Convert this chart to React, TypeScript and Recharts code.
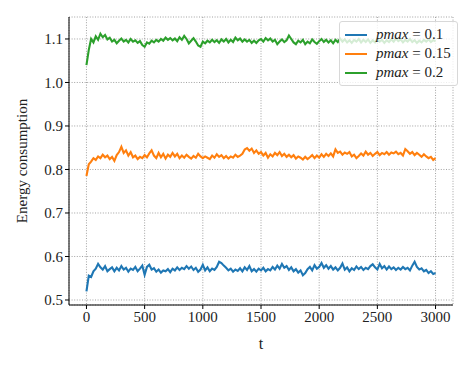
import React from 'react';
import {
  LineChart,
  Line,
  XAxis,
  YAxis,
  CartesianGrid,
} from 'recharts';

// sampled every 20 steps, t = 0 .. 3000
const STEP = 20;

const pmax01 = [
  0.520, 0.556, 0.553, 0.566, 0.572, 0.583, 0.575, 0.570, 0.578, 0.566,
  0.571, 0.575, 0.566, 0.574, 0.568, 0.578, 0.570, 0.574, 0.565, 0.572,
  0.569, 0.576, 0.566, 0.572, 0.579, 0.558, 0.576, 0.581, 0.570, 0.573,
  0.565, 0.570, 0.563, 0.568, 0.566, 0.571, 0.564, 0.572, 0.568, 0.575,
  0.569, 0.574, 0.571, 0.578, 0.572, 0.577, 0.569, 0.574, 0.565, 0.570,
  0.581, 0.568, 0.575, 0.566, 0.572, 0.569, 0.576, 0.588, 0.585, 0.579,
  0.574, 0.568, 0.572, 0.565, 0.570, 0.567, 0.573, 0.566, 0.575, 0.569,
  0.578, 0.566, 0.571, 0.565, 0.572, 0.568, 0.574, 0.566, 0.571, 0.568,
  0.576, 0.570, 0.579, 0.572, 0.583, 0.574, 0.578, 0.569, 0.575, 0.566,
  0.571, 0.563, 0.568, 0.557, 0.562, 0.571, 0.576, 0.568, 0.580, 0.572,
  0.576, 0.585, 0.574, 0.580, 0.572, 0.578, 0.570, 0.575, 0.568, 0.574,
  0.584, 0.570, 0.575, 0.566, 0.573, 0.569, 0.577, 0.571, 0.576, 0.569,
  0.574, 0.571, 0.578, 0.582, 0.575, 0.570, 0.583, 0.573, 0.578, 0.570,
  0.577, 0.571, 0.575, 0.569, 0.574, 0.570, 0.576, 0.571, 0.574, 0.568,
  0.579, 0.588, 0.576, 0.570, 0.573, 0.566, 0.569, 0.562, 0.566, 0.560,
  0.562,
];

const pmax015 = [
  0.785, 0.812, 0.818, 0.826, 0.822, 0.830, 0.826, 0.834, 0.828, 0.832,
  0.824, 0.829, 0.820, 0.833, 0.840, 0.852, 0.838, 0.844, 0.832, 0.840,
  0.828, 0.832, 0.824, 0.829, 0.826, 0.833, 0.828, 0.837, 0.844, 0.832,
  0.826, 0.838, 0.828, 0.836, 0.825, 0.834, 0.829, 0.838, 0.830, 0.836,
  0.826, 0.832, 0.827, 0.834, 0.829, 0.825, 0.831, 0.827, 0.836, 0.830,
  0.826, 0.830, 0.827, 0.824, 0.832, 0.827, 0.835, 0.829, 0.833, 0.826,
  0.831, 0.825, 0.830, 0.827, 0.834, 0.829, 0.832, 0.836, 0.846, 0.849,
  0.843, 0.848, 0.838, 0.844, 0.836, 0.840, 0.832, 0.838, 0.827, 0.835,
  0.830, 0.838, 0.833, 0.840, 0.831, 0.836, 0.829, 0.834, 0.828, 0.833,
  0.825, 0.830, 0.827, 0.823, 0.829, 0.824, 0.828, 0.833, 0.826, 0.832,
  0.827, 0.835, 0.829, 0.836, 0.831, 0.837, 0.830, 0.846, 0.838, 0.841,
  0.834, 0.839, 0.836, 0.840, 0.830, 0.834, 0.826, 0.831, 0.837, 0.832,
  0.841, 0.834, 0.838, 0.831, 0.836, 0.840, 0.833, 0.838, 0.835, 0.840,
  0.834, 0.839, 0.837, 0.841, 0.835, 0.838, 0.832, 0.847, 0.842, 0.836,
  0.840, 0.833, 0.838, 0.834, 0.829, 0.835, 0.830, 0.826, 0.829, 0.822,
  0.826,
];

const pmax02 = [
  1.040, 1.075, 1.100, 1.092, 1.106, 1.098, 1.112, 1.104, 1.109, 1.099,
  1.103, 1.094, 1.098, 1.090, 1.096, 1.101, 1.094, 1.098, 1.092, 1.100,
  1.094, 1.097, 1.091, 1.095, 1.086, 1.082, 1.092, 1.089, 1.096, 1.092,
  1.098, 1.094, 1.100, 1.096, 1.103, 1.098, 1.102, 1.097, 1.101, 1.095,
  1.104, 1.098, 1.107, 1.100, 1.090, 1.096, 1.102, 1.094, 1.085, 1.082,
  1.094, 1.090, 1.096, 1.092, 1.098, 1.093, 1.097, 1.091, 1.099, 1.094,
  1.100, 1.092, 1.098, 1.093, 1.103, 1.097, 1.101, 1.094, 1.099, 1.094,
  1.098, 1.091, 1.096, 1.091, 1.097, 1.100, 1.094, 1.102, 1.097, 1.101,
  1.094, 1.098, 1.088, 1.094, 1.099, 1.093, 1.097, 1.108, 1.100, 1.092,
  1.088, 1.096, 1.092, 1.098, 1.088, 1.094, 1.090, 1.099, 1.093, 1.089,
  1.095, 1.100, 1.093, 1.098, 1.092, 1.097, 1.090, 1.098, 1.093, 1.101,
  1.094, 1.099, 1.092, 1.097, 1.091, 1.098, 1.094, 1.100, 1.092, 1.098,
  1.093, 1.099, 1.091, 1.097, 1.092, 1.100, 1.094, 1.098, 1.091, 1.097,
  1.093, 1.099, 1.094, 1.101, 1.095, 1.099, 1.092, 1.098, 1.094, 1.100,
  1.093, 1.097, 1.091, 1.096, 1.092, 1.098, 1.094, 1.099, 1.093, 1.097,
  1.095,
];

const xTicks = [0, 500, 1000, 1500, 2000, 2500, 3000];
const yTicks = [0.5, 0.6, 0.7, 0.8, 0.9, 1.0, 1.1];

const seriesNames = ['0.1', '0.15', '0.2'];
const colors = ['#1f77b4', '#ff7f0e', '#2ca02c'];

const data = pmax01.map((v, i) => ({
  t: i * STEP,
  a: v,
  b: pmax015[i],
  c: pmax02[i],
}));

const FONT = '"Liberation Serif", "DejaVu Serif", serif';
const X_DOMAIN = [-150, 3150];
const Y_DOMAIN = [0.4885, 1.1505];

function LegendBox() {
  return (
    <div
      style={{
        position: 'absolute',
        left: 339,
        top: 21,
        background: 'rgba(255,255,255,0.8)',
        border: '1px solid #d8d8d8',
        borderRadius: 3,
        padding: '3px 6px 3px 5px',
        fontFamily: FONT,
        fontSize: 15,
        color: '#222',
      }}
    >
      {seriesNames.map((n, i) => (
        <div key={n} style={{ display: 'flex', alignItems: 'center', height: 19 }}>
          <span
            style={{
              display: 'inline-block',
              width: 22,
              height: 0,
              borderTop: `2px solid ${colors[i]}`,
              marginRight: 9,
            }}
          />
          <span>
            <i>pmax</i> = {n}
          </span>
        </div>
      ))}
    </div>
  );
}

const yLabel = () => (
  <text
    x={22}
    y={161}
    transform="rotate(-90 22 161)"
    textAnchor="middle"
    dominantBaseline="central"
    fontFamily={FONT}
    fontSize={15}
    fill="#222"
  >
    Energy consumption
  </text>
);

export default function App() {
  return (
    <div style={{ position: 'fixed', left: 0, top: 0, width: 474, height: 367, background: '#fff', fontFamily: FONT }}>
      <style>{`.recharts-cartesian-axis-tick-value, .recharts-label { font-family: ${FONT}; }`}</style>
      <LineChart
        width={474}
        height={367}
        data={data}
        margin={{ top: 17, right: 21, bottom: 22, left: 19 }}
        style={{ fontFamily: FONT }}
      >
        <CartesianGrid stroke="#8a8a8a" strokeDasharray="1 1.6" strokeWidth={0.8} />
        <XAxis
          dataKey="t"
          type="number"
          domain={X_DOMAIN}
          ticks={xTicks}
          height={40}
          stroke="#000"
          tickSize={4}
          tick={{ fontFamily: FONT, fontSize: 15, fill: '#222' }}
          label={{ value: 't', position: 'insideBottom', offset: -4, fontFamily: FONT, fontSize: 16, fill: '#222' }}
        />
        <XAxis xAxisId="top" orientation="top" dataKey="t" type="number" domain={X_DOMAIN} height={0} tick={false} tickLine={false} stroke="#000" />
        <YAxis
          type="number"
          domain={Y_DOMAIN}
          ticks={yTicks}
          width={50}
          stroke="#000"
          tickSize={4}
          tickFormatter={(v: number) => v.toFixed(1)}
          tick={{ fontFamily: FONT, fontSize: 15, fill: '#222' }}
          label={yLabel}
        />
        <YAxis yAxisId="right" orientation="right" width={0} domain={Y_DOMAIN} tick={false} tickLine={false} stroke="#000" />
        <Line dataKey="a" stroke={colors[0]} strokeWidth={2.1} dot={false} isAnimationActive={false} />
        <Line dataKey="b" stroke={colors[1]} strokeWidth={2.1} dot={false} isAnimationActive={false} />
        <Line dataKey="c" stroke={colors[2]} strokeWidth={2.1} dot={false} isAnimationActive={false} />
      </LineChart>
      <LegendBox />
    </div>
  );
}
